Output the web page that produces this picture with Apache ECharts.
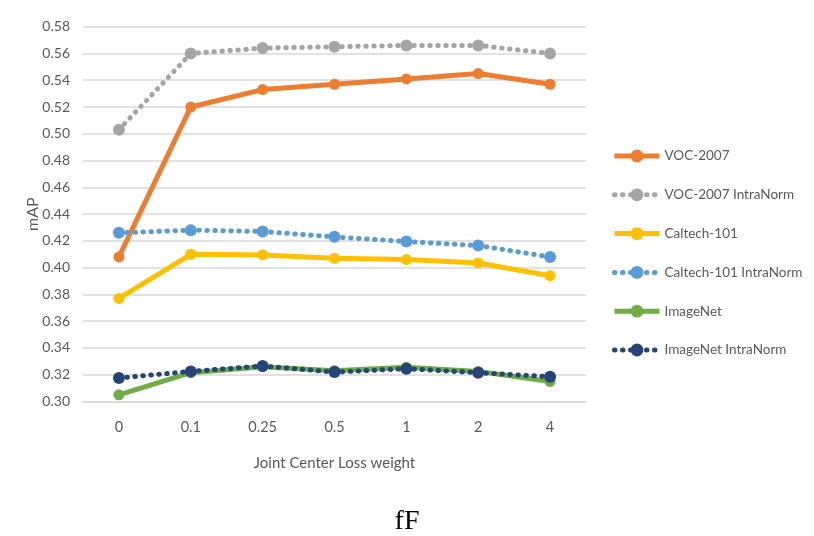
<!DOCTYPE html>
<html><head><meta charset="utf-8">
<script src="https://cdn.jsdelivr.net/npm/echarts@6/dist/echarts.min.js"></script>
<style>html,body{margin:0;padding:0;background:#fff}#c{width:814px;height:536px}</style>
</head><body><div id="c"></div>
<script>
const categories = ['0','0.1','0.25','0.5','1','2','4'];
const voc2007 = [0.408, 0.520, 0.533, 0.537, 0.541, 0.545, 0.537];
const voc2007Intra = [0.503, 0.560, 0.564, 0.565, 0.566, 0.566, 0.560];
const caltech101 = [0.377, 0.410, 0.4095, 0.407, 0.406, 0.4035, 0.394];
const caltech101Intra = [0.426, 0.428, 0.427, 0.423, 0.4195, 0.4165, 0.408];
const imagenet = [0.305, 0.3215, 0.326, 0.323, 0.3255, 0.3225, 0.315];
const imagenetIntra = [0.3175, 0.3225, 0.3265, 0.322, 0.3245, 0.3215, 0.3185];
const yTicks = {min: 0.30, max: 0.58, step: 0.02};

const font = 'Lato, "Noto Sans", sans-serif';
const txt = '#595959';
function solid(name, data, color){
  return {name, type:'line', data, symbol:'circle', symbolSize:11,
    itemStyle:{color}, lineStyle:{color, width:5}, z:2};
}
function dotted(name, data, color){
  return {name, type:'line', data, symbol:'circle', symbolSize:12,
    itemStyle:{color}, lineStyle:{color, width:5, type:[0.5,7.5], cap:'round'}, z:3};
}
const chart = echarts.init(document.getElementById('c'), null, {renderer:'canvas'});
chart.setOption({
  animation:false,
  backgroundColor:'#fff',
  grid:{left:83, right:228, top:26.7, bottom:134.5},
  xAxis:{type:'category', data:categories, boundaryGap:true,
    name:'Joint Center Loss weight', nameLocation:'middle', nameGap:54,
    nameTextStyle:{color:txt, fontSize:15, fontFamily:font},
    axisLine:{show:true, lineStyle:{color:'#d9d9d9', width:1.5}}, axisTick:{show:false},
    axisLabel:{color:txt, fontSize:14.5, fontFamily:font, margin:18}},
  yAxis:{type:'value', min:yTicks.min, max:yTicks.max, interval:yTicks.step,
    name:'mAP', nameLocation:'middle', nameGap:42, nameRotate:90, nameMoveOverlap:false,
    nameTextStyle:{color:txt, fontSize:16, fontFamily:font},
    axisLine:{show:false}, axisTick:{show:false},
    axisLabel:{color:txt, fontSize:14, fontFamily:font, margin:13, formatter:v=>v.toFixed(2)},
    splitLine:{lineStyle:{color:'#d9d9d9', width:1.5}}},
  legend:{orient:'vertical', left:607, top:144, itemWidth:45, itemHeight:16, itemGap:24.8,
    lineStyle:{width:5}, itemStyle:{},
    textStyle:{color:txt, fontSize:13.5, fontFamily:font},
    data:['VOC-2007','VOC-2007 IntraNorm','Caltech-101','Caltech-101 IntraNorm','ImageNet','ImageNet IntraNorm']},
  graphic:[{type:'text', left:'center', top:508,
    style:{text:'fF', font:'28px "Liberation Serif", "DejaVu Serif", serif', fill:'#000'}}],
  series:[
    solid('VOC-2007', voc2007, '#ED7D31'),
    dotted('VOC-2007 IntraNorm', voc2007Intra, '#A5A5A5'),
    solid('Caltech-101', caltech101, '#FFC000'),
    dotted('Caltech-101 IntraNorm', caltech101Intra, '#5B9BD5'),
    solid('ImageNet', imagenet, '#70AD47'),
    dotted('ImageNet IntraNorm', imagenetIntra, '#264478')
  ]
});
</script></body></html>
